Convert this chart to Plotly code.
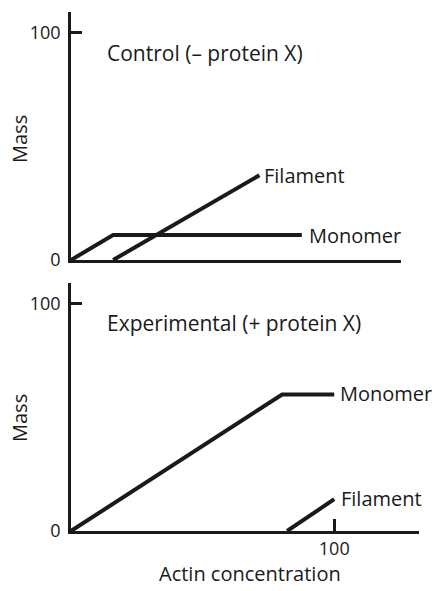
import plotly.graph_objects as go

# ---- data ----
control_monomer_x = [0, 16, 87.7]
control_monomer_y = [0, 11, 11]
control_filament_x = [16, 71.6]
control_filament_y = [0, 37.3]

exp_monomer_x = [0, 80.2, 100]
exp_monomer_y = [0, 60.1, 60.1]
exp_filament_x = [82.1, 100]
exp_filament_y = [0, 14]

y_tick_vals = [0, 100]
y_tick_text = ["0", "100"]
x_tick_vals = [100]
x_tick_text = ["100"]

W, H = 444, 591
FONT = "Open Sans, Liberation Sans, Arial, sans-serif"
INK = "#1a1a1a"
LW = 4
ALW = 2.5

fig = go.Figure()

def line(x, y, xa, ya):
    fig.add_trace(go.Scatter(x=x, y=y, mode="lines", xaxis=xa, yaxis=ya,
                             line=dict(color=INK, width=LW), hoverinfo="skip",
                             showlegend=False))

line(control_monomer_x, control_monomer_y, "x", "y")
line(control_filament_x, control_filament_y, "x", "y")
line(exp_monomer_x, exp_monomer_y, "x2", "y2")
line(exp_filament_x, exp_filament_y, "x2", "y2")

def px_x(p):
    return p / W

def px_y(p):
    return 1 - p / H

yaxis_common = dict(range=[0, 109.2], tickvals=y_tick_vals, ticktext=y_tick_text,
                    ticks="inside", ticklen=11, tickwidth=ALW, tickcolor=INK,
                    showgrid=False, zeroline=False, showline=True, linewidth=ALW,
                    linecolor=INK, tickfont=dict(family=FONT, size=18, color=INK),
                    ticklabelstandoff=4, fixedrange=True, automargin=False)

fig.update_layout(
    template="none",
    width=W, height=H,
    margin=dict(l=0, r=0, t=0, b=0, pad=0, autoexpand=False),
    paper_bgcolor="white", plot_bgcolor="white",
    font=dict(family=FONT, size=20, color=INK),
    xaxis=dict(domain=[px_x(71), px_x(401)], range=[0, 125.4], showgrid=False,
               zeroline=False, showline=True, linewidth=ALW, linecolor=INK,
               ticks="", showticklabels=False, anchor="y", fixedrange=True,
               automargin=False),
    yaxis=dict(domain=[px_y(260), px_y(12)], anchor="x", **yaxis_common),
    xaxis2=dict(domain=[px_x(71), px_x(419)], range=[0, 132.2], showgrid=False,
                zeroline=False, showline=True, linewidth=ALW, linecolor=INK,
                tickvals=x_tick_vals, ticktext=x_tick_text, ticks="inside",
                ticklen=12, tickwidth=ALW, tickcolor=INK,
                tickfont=dict(family=FONT, size=18, color=INK),
                ticklabelstandoff=0, anchor="y2", fixedrange=True,
                automargin=False),
    yaxis2=dict(domain=[px_y(531), px_y(283)], anchor="x2", **yaxis_common),
)

def note(text, x, y, xref, yref, **kw):
    fig.add_annotation(text=text, x=x, y=y, xref=xref, yref=yref, showarrow=False,
                       xanchor=kw.pop("xanchor", "left"), yanchor=kw.pop("yanchor", "middle"),
                       font=dict(family=FONT, size=kw.pop("size", 20), color=INK), **kw)

# panel titles and line labels
note("Control (– protein X)", 12.8, 91.2, "x", "y", size=21)
note("Filament", 72.6, 37.3, "x", "y")
note("Monomer", 89.6, 11, "x", "y")
note("Experimental (+ protein X)", 12.8, 91.7, "x2", "y2", size=21)
note("Monomer", 101.6, 60.5, "x2", "y2")
note("Filament", 101.8, 14.5, "x2", "y2")

# axis titles
note("Mass", px_x(19), px_y(139), "paper", "paper", xanchor="center", textangle=-90)
note("Mass", px_x(19), px_y(418), "paper", "paper", xanchor="center", textangle=-90)
note("Actin concentration", px_x(250), px_y(573), "paper", "paper", xanchor="center")

page_js = (
    "document.documentElement.style.margin='0';"
    "document.body.style.margin='0';"
    "document.documentElement.style.overflow='hidden';"
    "document.body.style.overflow='hidden';"
)

fig.write_html("out.html", config={"displayModeBar": False}, post_script=page_js)
